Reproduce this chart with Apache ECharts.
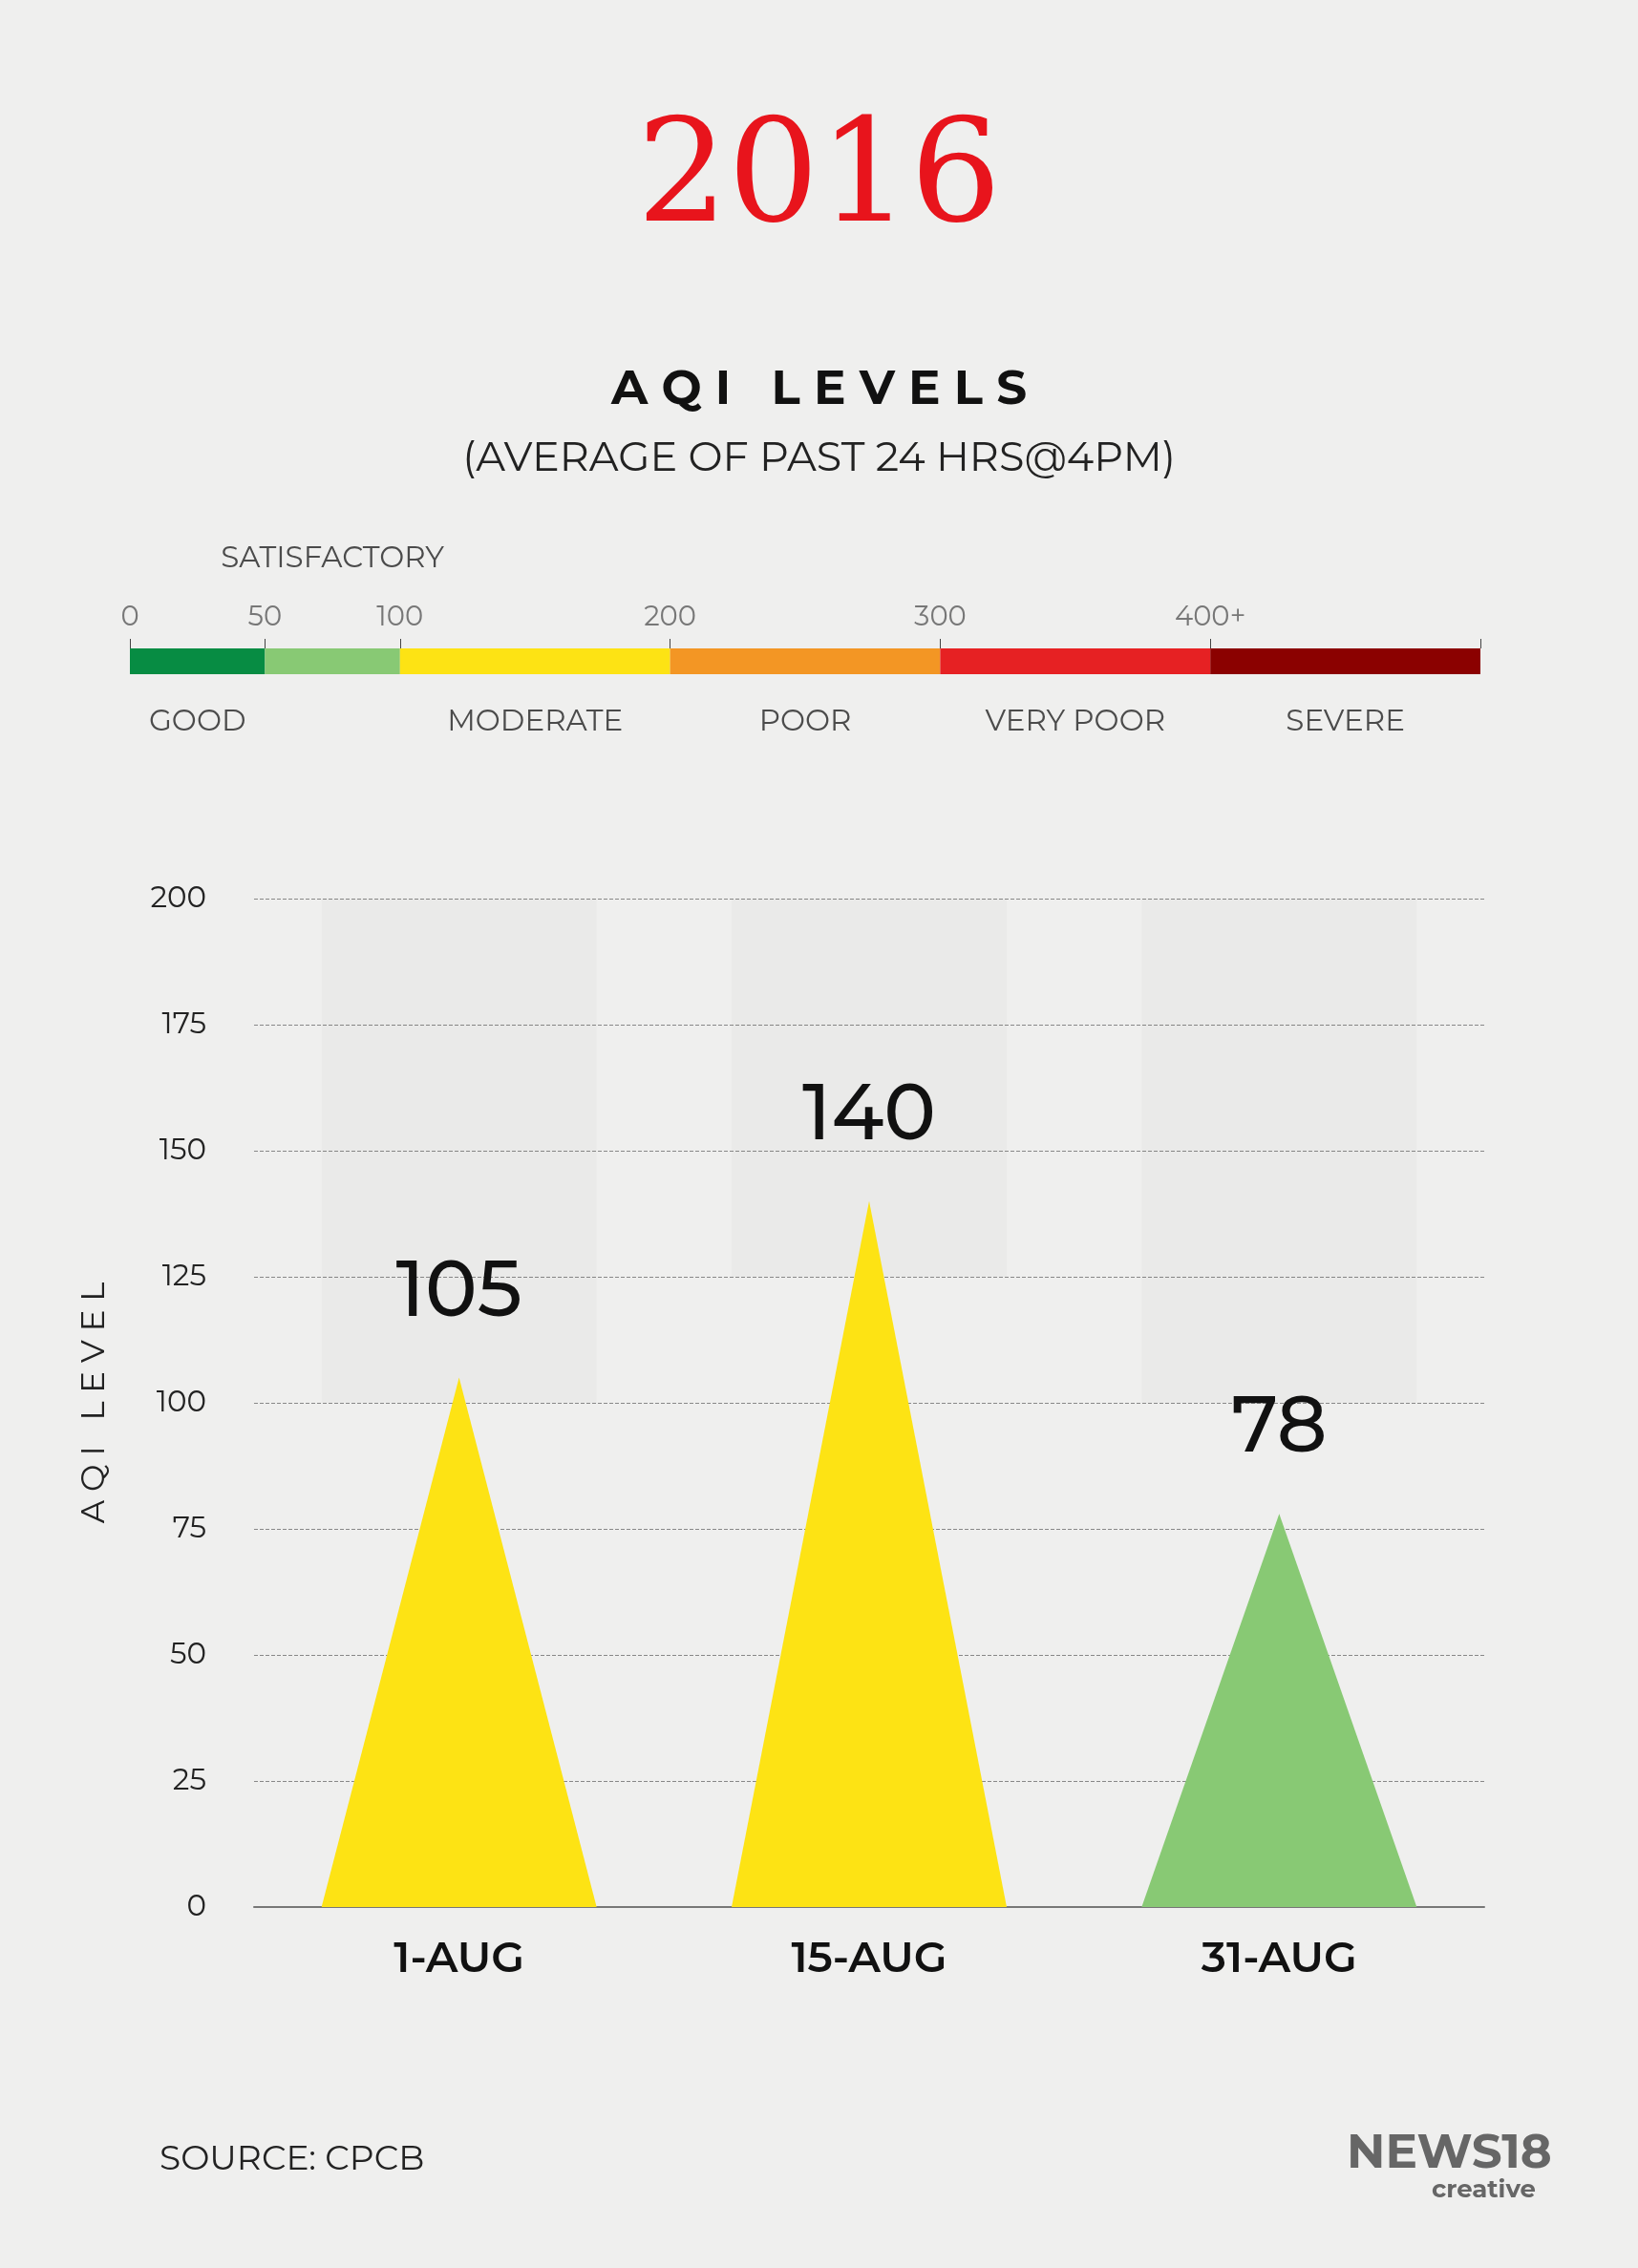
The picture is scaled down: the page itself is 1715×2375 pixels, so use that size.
<!DOCTYPE html>
<html><head><meta charset="utf-8">
<script src="https://cdn.jsdelivr.net/npm/echarts@6/dist/echarts.min.js"></script>
<style>html,body{margin:0;padding:0;background:#efefee;}#c{width:1715px;height:2375px;}</style>
</head><body><div id="c"></div>
<script>
const categories = ['1-AUG', '15-AUG', '31-AUG'];
const aqiValues = [105, 140, 78];
const barColors = ['#fde314', '#fde314', '#88c974'];
const shadeTop = [200, 200, 200];
const shadeBase = [100, 125, 100];
const yTicks = [0, 25, 50, 75, 100, 125, 150, 175, 200];
const scaleSegments = [50, 50, 100, 100, 100, 100];
const scaleColors = ['#078c43', '#88c974', '#fde314', '#f39624', '#e62123', '#8b0100'];
const scaleTickLabels = {0: '0', 50: '50', 100: '100', 200: '200', 300: '300', 400: '400+'};
const scaleNames = [[25, 'GOOD'], [150, 'MODERATE'], [250, 'POOR'], [350, 'VERY POOR'], [450, 'SEVERE']];
const satisfactory = [[75, 'SATISFACTORY']];

const chart = echarts.init(document.getElementById('c'));
const sans = 'Montserrat, "Noto Sans", Lato, sans-serif';
const stackSeries = scaleSegments.map((v, i) => ({
  type: 'bar', xAxisIndex: 1, yAxisIndex: 1, stack: 's', barWidth: 27,
  data: [v], itemStyle: {color: scaleColors[i]}, silent: true
}));
chart.setOption({
  backgroundColor: '#efefee',
  animation: false,
  title: [
    {text: '2016', left: 'center', top: 112, textStyle: {fontFamily: '"DejaVu Serif", "Liberation Serif", serif', fontWeight: 'normal', fontSize: 150, color: '#e8141c'}},
    {text: 'A Q I   L E V E L S', left: 'center', top: 378, textStyle: {fontFamily: sans, fontWeight: 'bold', fontSize: 50, color: '#111'}},
    {text: '(AVERAGE OF PAST 24 HRS@4PM)', left: 'center', top: 454, textStyle: {fontFamily: sans, fontWeight: 'normal', fontSize: 43, color: '#222'}},
    {text: 'SOURCE: CPCB', left: 162, top: 2238, textStyle: {fontFamily: sans, fontWeight: 'normal', fontSize: 36, color: '#222'}},
    {text: 'NEWS18', left: 1405, top: 2225, textStyle: {fontFamily: sans, fontWeight: 'bold', fontSize: 50, color: '#666'}},
    {text: 'creative', right: 102, top: 2275, textStyle: {fontFamily: sans, fontWeight: 'bold', fontSize: 26, color: '#666'}}
  ],
  grid: [
    {left: 266, right: 161, top: 941, bottom: 378},
    {left: 136, right: 165, top: 679, height: 27}
  ],
  xAxis: [
    {type: 'category', data: categories, gridIndex: 0,
     axisLine: {lineStyle: {color: '#777', width: 2}}, axisTick: {show: false},
     axisLabel: {fontFamily: sans, fontSize: 45, fontWeight: 600, color: '#111', margin: 32}},
    {type: 'value', gridIndex: 1, min: 0, max: 500, interval: 50, position: 'top',
     axisLine: {show: false}, splitLine: {show: false},
     axisTick: {show: true, inside: false, length: 10, lineStyle: {color: '#444'}, customValues: [0,50,100,200,300,400,500]},
     axisLabel: {fontFamily: sans, fontSize: 29, color: '#777', margin: 18, customValues: [0,50,100,200,300,400],
       formatter: v => scaleTickLabels[v] || ''}}
  ],
  yAxis: [
    {type: 'value', gridIndex: 0, min: 0, max: 200, interval: 25,
     name: 'A Q I   L E V E L', nameLocation: 'middle', nameGap: 150, nameRotate: 90,
     nameTextStyle: {fontFamily: sans, fontSize: 34, color: '#222'},
     axisLine: {show: false}, axisTick: {show: false},
     axisLabel: {fontFamily: sans, fontSize: 31, color: '#222', margin: 50},
     splitLine: {lineStyle: {type: 'dashed', color: '#888', width: 1}}},
    {type: 'category', gridIndex: 1, data: ['s'], show: false}
  ],
  series: [
    {type: 'bar', stack: 'shade', data: shadeBase, itemStyle: {color: 'transparent'}, barWidth: 288, silent: true},
    {type: 'bar', stack: 'shade', data: shadeTop.map((t, i) => t - shadeBase[i]), itemStyle: {color: 'rgba(0,0,0,0.02)'}, barWidth: 288, silent: true},
    {type: 'pictorialBar', symbol: 'triangle', symbolSize: [288, '100%'], barGap: '-100%', z: 5,
     data: aqiValues.map((v, i) => ({value: v, itemStyle: {color: barColors[i]}})),
     label: {show: true, position: 'top', distance: 48, fontFamily: sans, fontSize: 82, fontWeight: 500, color: '#111'}},
    ...stackSeries,
    {type: 'scatter', xAxisIndex: 1, yAxisIndex: 1, symbolSize: 0, silent: true,
     data: scaleNames.map(d => [d[0], 's', d[1]]),
     label: {show: true, position: 'bottom', distance: 48, formatter: p => p.data[2], fontFamily: sans, fontSize: 31, color: '#222'}},
    {type: 'scatter', xAxisIndex: 1, yAxisIndex: 1, symbolSize: 0, silent: true,
     data: satisfactory.map(d => [d[0], 's', d[1]]),
     label: {show: true, position: 'top', distance: 92, formatter: p => p.data[2], fontFamily: sans, fontSize: 31, color: '#222'}}
  ]
});
</script></body></html>
